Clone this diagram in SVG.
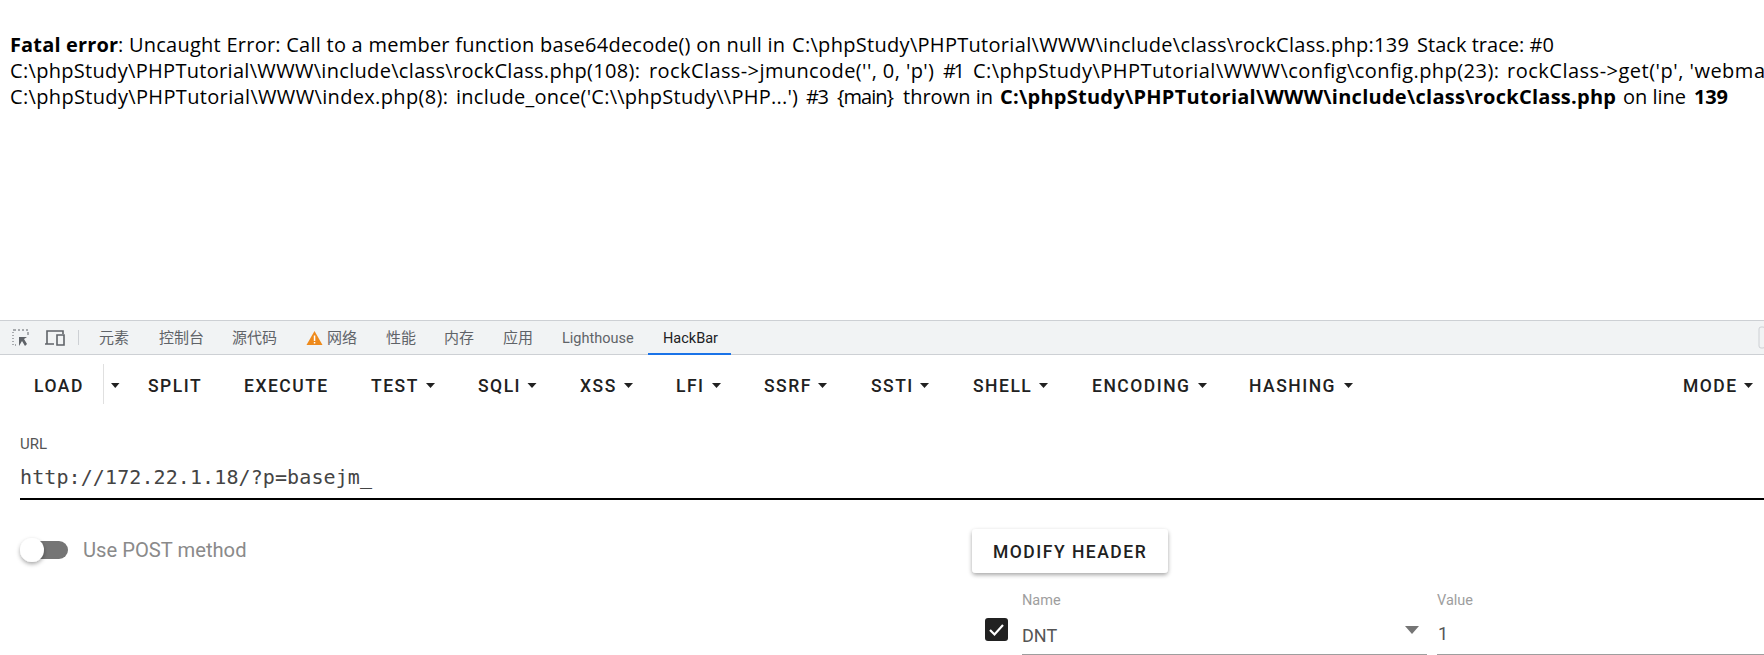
<svg xmlns="http://www.w3.org/2000/svg" width="1764" height="655" viewBox="0 0 1764 655">
<style>
.e{font-family:"Open Sans","Noto Sans",sans-serif;font-size:20px;fill:#000}
.b{font-weight:700}
.tab{font-family:Roboto,"Noto Sans CJK SC",sans-serif;font-size:14.500px;fill:#5f6368}
.cj{font-size:15px}
.m{font-family:Roboto,sans-serif;font-size:17.500px;letter-spacing:1.500px;fill:#212121;font-weight:500}
.c{fill:#212121}
.l{font-family:Roboto,sans-serif;font-size:14.500px;fill:#9e9e9e}
</style>
<defs><filter id="s" x="-30%" y="-30%" width="160%" height="170%"><feDropShadow dx="0" dy="2" stdDeviation="2" flood-color="#000" flood-opacity=".35"/></filter></defs>
<rect width="1764" height="655" fill="#fff"/>
<g id="error">
<text class="e b" x="10" y="52" textLength="108">Fatal error</text>
<text class="e" x="118" y="52" textLength="667">: Uncaught Error: Call to a member function base64decode() on null in</text>
<text class="e" x="792" y="52" textLength="617">C:\phpStudy\PHPTutorial\WWW\include\class\rockClass.php:139</text>
<text class="e" x="1417" y="52" textLength="137">Stack trace: #0</text>
<text class="e" x="10" y="78" textLength="630">C:\phpStudy\PHPTutorial\WWW\include\class\rockClass.php(108):</text>
<text class="e" x="649" y="78" textLength="285">rockClass-&gt;jmuncode('', 0, 'p')</text>
<text class="e" x="943" y="78" textLength="22">#1</text>
<text class="e" x="973" y="78" textLength="526">C:\phpStudy\PHPTutorial\WWW\config\config.php(23):</text>
<text class="e" x="1507" y="78" textLength="258">rockClass-&gt;get('p', 'webma</text>
<text class="e" x="10" y="104" textLength="438">C:\phpStudy\PHPTutorial\WWW\index.php(8):</text>
<text class="e" x="456" y="104" textLength="342">include_once('C:\\phpStudy\\PHP...')</text>
<text class="e" x="806" y="104" textLength="23">#3</text>
<text class="e" x="837" y="104" textLength="57">{main}</text>
<text class="e" x="903" y="104" textLength="90">thrown in</text>
<text class="e b" x="1000" y="104" textLength="616">C:\phpStudy\PHPTutorial\WWW\include\class\rockClass.php</text>
<text class="e" x="1623" y="104" textLength="63">on line</text>
<text class="e b" x="1694" y="104" textLength="34">139</text>
</g>
<g id="tabbar">
<rect x="0" y="320" width="1764" height="35" fill="#f1f3f4"/>
<rect x="0" y="320" width="1764" height="1" fill="#cdd0d4"/>
<rect x="0" y="354" width="1764" height="1" fill="#cdd0d4"/>
<path d="M13 336v-1M13 339v-1M13 333v-1M13 342v-1M13 345v-1M16 330h-3M20 330h-2M24 330h-2M28 330h-2M28 335v-3M16 345h-1" stroke="#5f6368" fill="none"/>
<path d="M20 345v-9h8l-3 2 3 5-2 2-3-5z" fill="#5f6368" transform="translate(-1 1)"/>
<path d="M47 344v-13h16v3M45 344h9M57 335h7v10h-7z" stroke="#5f6368" stroke-width="1.600" fill="none"/>
<rect x="78" y="330" width="1" height="15" fill="#cdd0d4"/>
<text class="tab cj" x="99" y="343">元素</text>
<text class="tab cj" x="159" y="343">控制台</text>
<text class="tab cj" x="232" y="343">源代码</text>
<path d="M314.500 331l8 14h-16z" fill="#ee8a1c"/>
<rect x="313.800" y="335.500" width="1.500" height="5.500" fill="#fff"/><rect x="313.800" y="342" width="1.500" height="1.500" fill="#fff"/>
<text class="tab cj" x="327" y="343">网络</text>
<text class="tab cj" x="386" y="343">性能</text>
<text class="tab cj" x="444" y="343">内存</text>
<text class="tab cj" x="503" y="343">应用</text>
<text class="tab" x="562" y="343">Lighthouse</text>
<text class="tab" x="663" y="343" style="fill:#202124">HackBar</text>
<rect x="648" y="353" width="83" height="2" fill="#1a73e8"/>
<rect x="1759" y="327" width="6" height="21" rx="2" fill="none" stroke="#cdd0d4"/>
</g>
<g id="toolbar">
<rect x="103" y="364" width="1" height="40" fill="#e0e0e0"/>
<text class="m" x="34" y="392">LOAD</text>
<path class="c" d="M111 383h8.500l-4.250 5z"/>
<text class="m" x="148" y="392">SPLIT</text>
<text class="m" x="244" y="392">EXECUTE</text>
<text class="m" x="371" y="392">TEST</text><path class="c" d="M426 383h9l-4.500 5z"/>
<text class="m" x="478" y="392">SQLI</text><path class="c" d="M527.500 383h9l-4.500 5z"/>
<text class="m" x="580" y="392">XSS</text><path class="c" d="M624 383h9l-4.500 5z"/>
<text class="m" x="676" y="392">LFI</text><path class="c" d="M712 383h9l-4.500 5z"/>
<text class="m" x="764" y="392">SSRF</text><path class="c" d="M818 383h9l-4.500 5z"/>
<text class="m" x="871" y="392">SSTI</text><path class="c" d="M920 383h9l-4.500 5z"/>
<text class="m" x="973" y="392">SHELL</text><path class="c" d="M1039 383h9l-4.500 5z"/>
<text class="m" x="1092" y="392">ENCODING</text><path class="c" d="M1198 383h9l-4.500 5z"/>
<text class="m" x="1249" y="392">HASHING</text><path class="c" d="M1344 383h9l-4.500 5z"/>
<text class="m" x="1683" y="392">MODE</text><path class="c" d="M1744 383h9l-4.500 5z"/>
</g>
<g id="url">
<text x="20" y="449" font-family="Roboto,sans-serif" font-size="15" fill="#555">URL</text>
<text x="20" y="484" font-family="'DejaVu Sans Mono','Liberation Mono',monospace" font-size="20" fill="#444" textLength="352">http://172.22.1.18/?p=basejm_</text>
<rect x="20" y="498" width="1744" height="2" fill="#000"/>
</g>
<g id="post">
<rect x="28" y="541" width="40" height="18" rx="9" fill="#757575"/>
<circle cx="32" cy="550" r="12" fill="#fff" filter="url(#s)"/>
<text x="83" y="557" font-family="Roboto,sans-serif" font-size="20.200" fill="#8a8a8a">Use POST method</text>
</g>
<g id="modify">
<rect x="972" y="529" width="196" height="44" rx="4" fill="#fff" filter="url(#s)"/>
<text class="m" x="993" y="558">MODIFY HEADER</text>
</g>
<g id="header">
<text class="l" x="1022" y="605">Name</text>
<text class="l" x="1437" y="605">Value</text>
<rect x="985" y="618" width="23" height="23" rx="3" fill="#212121"/>
<path d="M990 630l4.500 4.500 8.500-9.500" fill="none" stroke="#fff" stroke-width="2.200"/>
<text x="1022" y="642" font-family="Roboto,sans-serif" font-size="18" fill="#555">DNT</text>
<path d="M1405 626h14l-7 8z" fill="#757575"/>
<text x="1438" y="640" font-family="Roboto,sans-serif" font-size="18" fill="#555">1</text>
<rect x="1022" y="654" width="405" height="1" fill="#9e9e9e"/>
<rect x="1437" y="654" width="327" height="1" fill="#9e9e9e"/>
</g>
</svg>
